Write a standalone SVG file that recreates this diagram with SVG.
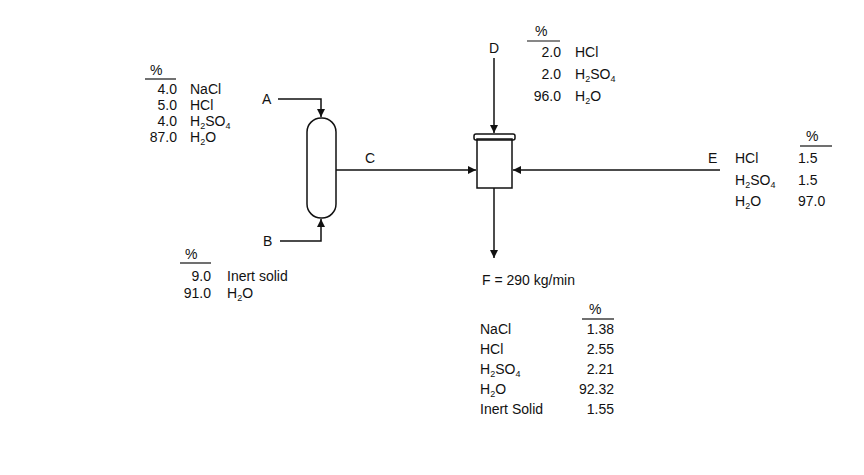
<svg xmlns="http://www.w3.org/2000/svg" width="864" height="475" viewBox="0 0 864 475">
<defs>
<marker id="ar" viewBox="0 0 10 10" refX="10" refY="5" markerWidth="8" markerHeight="10" markerUnits="userSpaceOnUse" orient="auto"><path d="M0,0L10,5L0,10z" fill="#111"/></marker>
<style>
text{font-family:"Liberation Sans",Arial,sans-serif;font-size:14px;fill:#111}
.r{text-anchor:end}
.ln{stroke:#111;stroke-width:1.5;fill:none}
.u{stroke:#111;stroke-width:1.2}
</style>
</defs>
<rect width="864" height="475" fill="#fff"/>
<g id="connectors">
<path class="ln" d="M278,99H321V117" marker-end="url(#ar)"/>
<path class="ln" d="M280,241H321V219" marker-end="url(#ar)"/>
<path class="ln" d="M336,170H476" marker-end="url(#ar)"/>
<path class="ln" d="M494,58V133" marker-end="url(#ar)"/>
<path class="ln" d="M720,170H513" marker-end="url(#ar)"/>
<path class="ln" d="M494,188V258" marker-end="url(#ar)"/>
</g>
<g id="column"><rect x="307" y="118" width="29" height="100" rx="14" ry="14" class="ln" fill="#fff"/></g>
<g id="mixer"><rect x="477" y="139" width="35" height="49" class="ln"/><rect x="474" y="134" width="41" height="6" rx="2" class="ln" fill="#fff"/></g>
<g id="labels">
<text x="262" y="104">A</text><text x="263" y="246">B</text><text x="365" y="163">C</text><text x="489" y="53">D</text><text x="708" y="163">E</text>
</g>
<g id="tableA">
<text x="150" y="75">%</text><line class="u" x1="145" y1="79" x2="176" y2="79"/>
<text class="r" x="177" y="94">4.0</text><text x="190" y="94">NaCl</text>
<text class="r" x="177" y="110">5.0</text><text x="190" y="110">HCl</text>
<text class="r" x="177" y="126">4.0</text><text x="190" y="126">H<tspan font-size="9" dy="3">2</tspan><tspan dy="-3">SO</tspan><tspan font-size="9" dy="3">4</tspan></text>
<text class="r" x="177" y="142">87.0</text><text x="190" y="142">H<tspan font-size="9" dy="3">2</tspan><tspan dy="-3">O</tspan></text>
</g>
<g id="tableB">
<text x="185" y="259">%</text><line class="u" x1="180" y1="263" x2="211" y2="263"/>
<text class="r" x="211" y="281">9.0</text><text x="227" y="281">Inert solid</text>
<text class="r" x="211" y="298">91.0</text><text x="227" y="298">H<tspan font-size="9" dy="3">2</tspan><tspan dy="-3">O</tspan></text>
</g>
<g id="tableD">
<text x="535" y="36">%</text><line class="u" x1="527" y1="41" x2="560" y2="41"/>
<text class="r" x="561" y="57">2.0</text><text x="575" y="57">HCl</text>
<text class="r" x="561" y="79">2.0</text><text x="575" y="79">H<tspan font-size="9" dy="3">2</tspan><tspan dy="-3">SO</tspan><tspan font-size="9" dy="3">4</tspan></text>
<text class="r" x="561" y="101">96.0</text><text x="575" y="101">H<tspan font-size="9" dy="3">2</tspan><tspan dy="-3">O</tspan></text>
</g>
<g id="tableE">
<text x="806" y="141">%</text><line class="u" x1="800" y1="146" x2="832" y2="146"/>
<text x="735" y="163">HCl</text><text x="798" y="163">1.5</text>
<text x="735" y="185">H<tspan font-size="9" dy="3">2</tspan><tspan dy="-3">SO</tspan><tspan font-size="9" dy="3">4</tspan></text><text x="798" y="185">1.5</text>
<text x="735" y="206">H<tspan font-size="9" dy="3">2</tspan><tspan dy="-3">O</tspan></text><text x="798" y="206">97.0</text>
</g>
<g id="tableF">
<text x="482" y="285">F = 290 kg/min</text>
<text x="589" y="314">%</text><line class="u" x1="582" y1="319" x2="614" y2="319"/>
<text x="480" y="334">NaCl</text><text class="r" x="614" y="334">1.38</text>
<text x="480" y="354">HCl</text><text class="r" x="614" y="354">2.55</text>
<text x="480" y="374">H<tspan font-size="9" dy="3">2</tspan><tspan dy="-3">SO</tspan><tspan font-size="9" dy="3">4</tspan></text><text class="r" x="614" y="374">2.21</text>
<text x="480" y="394">H<tspan font-size="9" dy="3">2</tspan><tspan dy="-3">O</tspan></text><text class="r" x="614" y="394">92.32</text>
<text x="480" y="414">Inert Solid</text><text class="r" x="614" y="414">1.55</text>
</g>
</svg>
